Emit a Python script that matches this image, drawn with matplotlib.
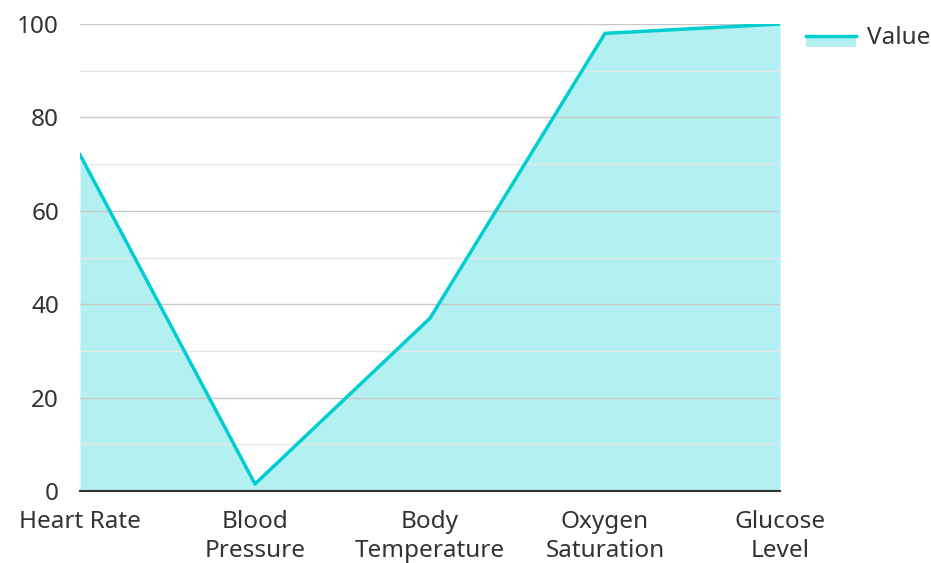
import matplotlib.pyplot as plt
from matplotlib.patches import Patch
from matplotlib.lines import Line2D
from matplotlib.legend_handler import HandlerBase

categories = ['Heart Rate', 'Blood\nPressure', 'Body\nTemperature', 'Oxygen\nSaturation', 'Glucose\nLevel']
values = [72, 1.5, 37, 98, 100]
series_name = 'Value'

line_color = '#00CED1'
text_color = '#333333'
fs = 17.5

plt.rcParams['font.family'] = ['Noto Sans', 'DejaVu Sans']


class LineOnPatch(HandlerBase):
    # линия по центру текста, заливка под ней
    def create_artists(self, legend, orig_handle, xdescent, ydescent,
                       width, height, fontsize, trans):
        mid = -ydescent + height * 0.5
        p = plt.Rectangle((-xdescent, mid - 8.6), width, 8.6, facecolor=line_color,
                          alpha=0.3, edgecolor='none', transform=trans)
        l = Line2D([-xdescent, -xdescent + width], [mid, mid], color=line_color,
                   lw=2.5, transform=trans)
        return [p, l]


fig = plt.figure(figsize=(9.31, 5.63), dpi=100)
ax = fig.add_axes([80 / 931, 1 - 491 / 563, 700 / 931, 467 / 563])

x = list(range(len(categories)))
ax.fill_between(x, values, 0, color=line_color, alpha=0.3, lw=0, zorder=1)
ax.plot(x, values, color=line_color, lw=2.5, zorder=3)

ax.set_xlim(0, len(categories) - 1)
ax.set_ylim(0, 100)
ax.set_yticks(range(0, 101, 20))
ax.set_yticks(range(10, 100, 20), minor=True)
ax.set_xticks(x)
ax.set_xticklabels(categories)

ax.grid(axis='y', which='major', color='#c8c8c8', lw=1, zorder=2)
ax.grid(axis='y', which='minor', color='#e8e8e8', lw=1, zorder=2)
ax.set_axisbelow(False)

for s in ['top', 'right', 'left']:
    ax.spines[s].set_visible(False)
ax.spines['bottom'].set_color('#333333')
ax.spines['bottom'].set_linewidth(1.5)
ax.spines['bottom'].set_zorder(4)

ax.tick_params(axis='y', which='both', length=0, pad=15, labelsize=fs, labelcolor=text_color)
ax.tick_params(axis='x', length=0, pad=13.5, labelsize=fs, labelcolor=text_color)
for lbl in ax.get_xticklabels():
    lbl.set_linespacing(1.3)

leg = ax.legend([Patch()], [series_name], handler_map={Patch: LineOnPatch()},
                loc='center left', bbox_to_anchor=(1.037, 0.97), frameon=False,
                borderpad=0, borderaxespad=0,
                fontsize=fs, handlelength=2.05, handleheight=0.7, handletextpad=0.45)
for t in leg.get_texts():
    t.set_color(text_color)

plt.savefig('out.png', dpi=100)
